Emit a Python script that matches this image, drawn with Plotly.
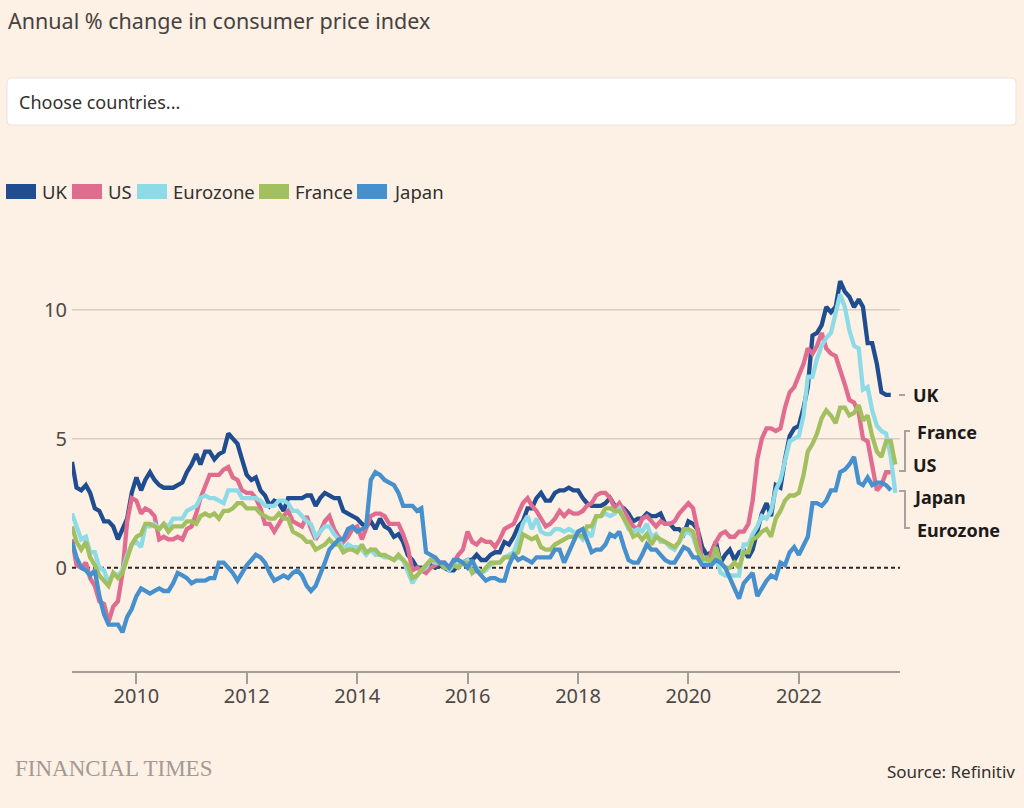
import pandas as pd
import plotly.graph_objects as go

# Monthly annual % change in CPI, Nov 2008 - Oct 2023
months = pd.date_range('2008-11-01', '2023-10-01', freq='MS')

uk = [4.1, 3.1,
      3.0, 3.2, 2.9, 2.3, 2.2, 1.8, 1.8, 1.6, 1.1, 1.5, 1.9, 2.9,
      3.5, 3.0, 3.4, 3.7, 3.4, 3.2, 3.1, 3.1, 3.1, 3.2, 3.3, 3.7,
      4.0, 4.4, 4.0, 4.5, 4.5, 4.2, 4.4, 4.5, 5.2, 5.0, 4.8, 4.2,
      3.6, 3.4, 3.5, 3.0, 2.8, 2.4, 2.6, 2.5, 2.2, 2.7, 2.7, 2.7,
      2.7, 2.8, 2.8, 2.4, 2.7, 2.9, 2.8, 2.7, 2.7, 2.2, 2.1, 2.0,
      1.9, 1.7, 1.6, 1.8, 1.5, 1.9, 1.6, 1.5, 1.2, 1.3, 1.0, 0.5,
      0.3, 0.0, 0.0, -0.1, 0.1, 0.0, 0.1, 0.0, -0.1, -0.1, 0.1, 0.2,
      0.3, 0.3, 0.5, 0.3, 0.3, 0.5, 0.6, 0.6, 1.0, 0.9, 1.2, 1.6,
      1.8, 2.3, 2.3, 2.7, 2.9, 2.6, 2.6, 2.9, 3.0, 3.0, 3.1, 3.0,
      3.0, 2.7, 2.5, 2.4, 2.4, 2.4, 2.5, 2.7, 2.4, 2.4, 2.3, 2.1,
      1.8, 1.9, 1.9, 2.1, 2.0, 2.0, 2.1, 1.7, 1.7, 1.5, 1.5, 1.3,
      1.8, 1.7, 1.5, 0.8, 0.5, 0.6, 1.0, 0.2, 0.5, 0.7, 0.3, 0.6,
      0.7, 0.4, 0.7, 1.5, 2.1, 2.5, 2.0, 3.2, 3.1, 4.2, 5.1, 5.4,
      5.5, 6.2, 7.0, 9.0, 9.1, 9.4, 10.1, 9.9, 10.1, 11.1, 10.7, 10.5,
      10.1, 10.4, 10.1, 8.7, 8.7, 7.9, 6.8, 6.7, 6.7, None]

us = [1.1, 0.1,
      0.0, 0.2, -0.4, -0.7, -1.3, -1.4, -2.1, -1.5, -1.3, -0.2, 1.8, 2.7,
      2.6, 2.1, 2.3, 2.2, 2.0, 1.1, 1.2, 1.1, 1.1, 1.2, 1.1, 1.5,
      1.6, 2.1, 2.7, 3.2, 3.6, 3.6, 3.6, 3.8, 3.9, 3.5, 3.4, 3.0,
      2.9, 2.9, 2.7, 2.3, 1.7, 1.7, 1.4, 1.7, 2.0, 2.2, 1.8, 1.7,
      1.6, 2.0, 1.5, 1.1, 1.4, 1.8, 2.0, 1.5, 1.2, 1.0, 1.2, 1.5,
      1.6, 1.1, 1.5, 2.0, 2.1, 2.1, 2.0, 1.7, 1.7, 1.7, 1.3, 0.8,
      -0.1, 0.0, -0.1, -0.2, 0.0, 0.1, 0.2, 0.2, 0.0, 0.2, 0.5, 0.7,
      1.4, 1.0, 0.9, 1.1, 1.0, 1.0, 0.8, 1.1, 1.5, 1.6, 1.7, 2.1,
      2.5, 2.7, 2.4, 2.2, 1.9, 1.6, 1.7, 1.9, 2.2, 2.0, 2.2, 2.1,
      2.1, 2.2, 2.4, 2.5, 2.8, 2.9, 2.9, 2.7, 2.3, 2.5, 2.2, 1.9,
      1.6, 1.5, 1.9, 2.0, 1.8, 1.6, 1.8, 1.7, 1.7, 1.8, 2.1, 2.3,
      2.5, 2.3, 1.5, 0.3, 0.1, 0.6, 1.0, 1.3, 1.4, 1.2, 1.2, 1.4,
      1.4, 1.7, 2.6, 4.2, 5.0, 5.4, 5.4, 5.3, 5.4, 6.2, 6.8, 7.0,
      7.5, 7.9, 8.5, 8.3, 8.6, 9.1, 8.5, 8.3, 8.2, 7.7, 7.1, 6.5,
      6.4, 6.0, 5.0, 4.9, 4.0, 3.0, 3.2, 3.7, 3.7, None]

eurozone = [2.1, 1.6,
            1.1, 1.2, 0.6, 0.6, 0.0, -0.1, -0.6, -0.2, -0.3, -0.1, 0.5, 0.9,
            1.0, 0.8, 1.6, 1.6, 1.7, 1.5, 1.7, 1.6, 1.9, 1.9, 1.9, 2.2,
            2.3, 2.4, 2.7, 2.8, 2.7, 2.7, 2.6, 2.5, 3.0, 3.0, 3.0, 2.7,
            2.7, 2.7, 2.7, 2.6, 2.4, 2.4, 2.4, 2.6, 2.6, 2.5, 2.2, 2.2,
            2.0, 1.8, 1.7, 1.2, 1.4, 1.6, 1.6, 1.3, 1.1, 0.7, 0.9, 0.8,
            0.8, 0.7, 0.5, 0.7, 0.5, 0.5, 0.4, 0.4, 0.3, 0.4, 0.3, -0.2,
            -0.6, -0.3, -0.1, 0.0, 0.3, 0.2, 0.2, 0.1, -0.1, 0.1, 0.1, 0.2,
            0.3, -0.2, 0.0, -0.2, -0.1, 0.1, 0.2, 0.2, 0.4, 0.5, 0.6, 1.1,
            1.7, 2.0, 1.5, 1.9, 1.4, 1.3, 1.3, 1.5, 1.5, 1.4, 1.5, 1.4,
            1.3, 1.1, 1.4, 1.2, 2.0, 2.0, 2.1, 2.0, 2.1, 2.3, 1.9, 1.5,
            1.4, 1.5, 1.4, 1.7, 1.2, 1.3, 1.0, 1.0, 0.8, 0.7, 1.0, 1.3,
            1.4, 1.2, 0.7, 0.3, 0.1, 0.3, 0.4, -0.2, -0.3, -0.3, -0.3, -0.3,
            0.9, 0.9, 1.3, 1.6, 2.0, 1.9, 2.2, 3.0, 3.4, 4.1, 4.9, 5.0,
            5.1, 5.9, 7.4, 7.4, 8.1, 8.6, 8.9, 9.1, 9.9, 10.6, 10.1, 9.2,
            8.6, 8.5, 6.9, 7.0, 6.1, 5.5, 5.3, 5.2, 4.3, 2.9]

france = [1.6, 1.0,
          0.7, 1.0, 0.4, 0.1, -0.3, -0.5, -0.7, -0.2, -0.4, -0.2, 0.4, 0.9,
          1.2, 1.3, 1.7, 1.7, 1.6, 1.5, 1.7, 1.4, 1.6, 1.6, 1.6, 1.8,
          1.8, 1.7, 2.0, 2.1, 2.0, 2.1, 1.9, 2.2, 2.2, 2.3, 2.5, 2.5,
          2.3, 2.3, 2.3, 2.1, 2.0, 1.9, 1.9, 2.1, 1.9, 1.9, 1.4, 1.3,
          1.2, 1.0, 1.0, 0.7, 0.8, 0.9, 1.1, 0.9, 0.9, 0.6, 0.7, 0.7,
          0.6, 0.9, 0.6, 0.7, 0.7, 0.5, 0.5, 0.4, 0.3, 0.5, 0.3, 0.1,
          -0.4, -0.3, -0.1, 0.1, 0.3, 0.3, 0.2, 0.0, 0.0, 0.1, 0.0, 0.2,
          0.2, -0.2, -0.1, -0.2, 0.0, 0.2, 0.2, 0.2, 0.4, 0.4, 0.5, 0.6,
          1.3, 1.2, 1.1, 1.2, 0.8, 0.7, 0.7, 0.9, 1.0, 1.1, 1.2, 1.2,
          1.3, 1.2, 1.6, 1.6, 2.0, 2.0, 2.3, 2.3, 2.2, 2.2, 1.9, 1.6,
          1.2, 1.3, 1.1, 1.3, 0.9, 1.2, 1.1, 1.0, 0.9, 0.8, 1.0, 1.5,
          1.5, 1.4, 0.7, 0.3, 0.4, 0.2, 0.8, 0.2, 0.0, 0.0, 0.2, 0.0,
          0.6, 0.6, 1.1, 1.2, 1.4, 1.5, 1.2, 1.9, 2.2, 2.6, 2.8, 2.8,
          2.9, 3.6, 4.5, 4.8, 5.2, 5.8, 6.1, 5.9, 5.6, 6.2, 6.2, 5.9,
          6.0, 6.3, 5.7, 5.9, 5.1, 4.5, 4.3, 4.9, 4.9, 4.0]

japan = [1.0, 0.4,
         0.0, -0.1, -0.3, -0.1, -1.1, -1.8, -2.2, -2.2, -2.2, -2.5, -1.9, -1.6,
         -1.1, -0.8, -0.9, -1.0, -0.9, -0.8, -0.9, -0.9, -0.6, -0.2, -0.3, -0.4,
         -0.6, -0.5, -0.5, -0.5, -0.4, -0.4, 0.2, 0.2, 0.0, -0.2, -0.5, -0.2,
         0.1, 0.3, 0.5, 0.4, 0.2, -0.2, -0.5, -0.4, -0.3, -0.4, -0.2, -0.1,
         -0.3, -0.7, -0.9, -0.7, -0.3, 0.2, 0.7, 0.9, 1.1, 1.1, 1.5, 1.6,
         1.4, 1.5, 1.6, 3.4, 3.7, 3.6, 3.4, 3.3, 3.2, 2.9, 2.4, 2.4,
         2.4, 2.2, 2.3, 0.6, 0.5, 0.4, 0.2, 0.2, 0.0, 0.3, 0.3, 0.2,
         0.0, 0.3, -0.1, -0.3, -0.5, -0.4, -0.4, -0.5, -0.5, 0.1, 0.5, 0.3,
         0.4, 0.3, 0.2, 0.4, 0.4, 0.4, 0.4, 0.7, 0.7, 0.2, 0.6, 1.0,
         1.4, 1.5, 1.1, 0.6, 0.7, 0.7, 0.9, 1.3, 1.2, 1.4, 0.8, 0.3,
         0.2, 0.2, 0.5, 0.9, 0.7, 0.7, 0.5, 0.3, 0.2, 0.2, 0.5, 0.8,
         0.7, 0.4, 0.4, 0.1, 0.1, 0.1, 0.3, 0.2, 0.0, -0.4, -0.9, -1.2,
         -0.6, -0.4, -0.2, -1.1, -0.8, -0.5, -0.3, -0.4, 0.2, 0.1, 0.6, 0.8,
         0.5, 0.9, 1.2, 2.5, 2.5, 2.4, 2.6, 3.0, 3.0, 3.7, 3.8, 4.0,
         4.3, 3.3, 3.2, 3.5, 3.2, 3.3, 3.3, 3.2, 3.0, None]

names = ['UK', 'US', 'Eurozone', 'France', 'Japan']
colours = ['#1f4d8f', '#e06c8f', '#8ddbe6', '#a2c060', '#4690cd']

BG = '#fdf0e5'
TEXT = '#33302e'

# page geometry (pixels) -> paper coordinates
W, H = 1024, 808
L, R, T, B = 72, 124, 258, 137


def px(x):
    return (x - L) / (W - L - R)


def py(y):
    return (H - B - y) / (H - T - B)


fig = go.Figure()
for name, vals, col in zip(names, [uk, us, eurozone, france, japan], colours):
    fig.add_trace(go.Scatter(
        x=months, y=vals, name=name, mode='lines',
        line=dict(color=col, width=4.3),
        showlegend=False,
        hovertemplate='%{x|%b %Y}: %{y:.1f}%<extra>' + name + '</extra>'
    ))

shapes = []
annotations = []

# gridlines + dotted zero line
for v in (5, 10):
    shapes.append(dict(type='line', xref='paper', yref='y', x0=0, x1=1, y0=v, y1=v,
                       line=dict(color='#d9cdc3', width=1.5), layer='below'))
shapes.append(dict(type='line', xref='paper', yref='y', x0=0, x1=1, y0=0, y1=0,
                   line=dict(color='#2b2826', width=2, dash='4px,3px'), layer='below'))

# "Choose countries..." box with rounded corners
bx0, by0, bx1, by1, r = 7, 78, 1016, 125, 4
box_path = (f'M {px(bx0 + r)},{py(by0)} L {px(bx1 - r)},{py(by0)} '
            f'Q {px(bx1)},{py(by0)} {px(bx1)},{py(by0 + r)} '
            f'L {px(bx1)},{py(by1 - r)} Q {px(bx1)},{py(by1)} {px(bx1 - r)},{py(by1)} '
            f'L {px(bx0 + r)},{py(by1)} Q {px(bx0)},{py(by1)} {px(bx0)},{py(by1 - r)} '
            f'L {px(bx0)},{py(by0 + r)} Q {px(bx0)},{py(by0)} {px(bx0 + r)},{py(by0)} Z')
shapes.append(dict(type='path', xref='paper', yref='paper', path=box_path,
                   fillcolor='white', line=dict(color='#ebe3db', width=1)))
annotations.append(dict(text='Choose countries...', x=px(18), y=py(102), xref='paper', yref='paper',
                        xanchor='left', yanchor='middle', showarrow=False, borderpad=0,
                        font=dict(size=18, color=TEXT)))

# legend swatches
legend_x = [6, 72, 137, 259, 357]
for lx, name, col in zip(legend_x, names, colours):
    shapes.append(dict(type='rect', xref='paper', yref='paper',
                       x0=px(lx), x1=px(lx + 30), y0=py(184), y1=py(199),
                       fillcolor=col, line=dict(width=0)))
    annotations.append(dict(text=name, x=px(lx + 35), y=py(191.5), xref='paper', yref='paper',
                            xanchor='left', yanchor='middle', showarrow=False, borderpad=0,
                            font=dict(size=18.5, color=TEXT)))

# end-of-line labels with leader brackets
bracket = dict(color='#aaa39d', width=2)
shapes.append(dict(type='line', xref='paper', yref='paper', x0=px(899), x1=px(905),
                   y0=py(395), y1=py(395), line=bracket))
shapes.append(dict(type='path', xref='paper', yref='paper', line=bracket,
                   path=f'M {px(910)},{py(431)} L {px(905)},{py(431)} L {px(905)},{py(471)} L {px(899)},{py(471)}'))
shapes.append(dict(type='path', xref='paper', yref='paper', line=bracket,
                   path=f'M {px(899)},{py(491)} L {px(905)},{py(491)} L {px(905)},{py(528)} L {px(910)},{py(528)}'))
end_labels = [('UK', 912, 395), ('France', 916, 432), ('US', 912, 465),
              ('Japan', 912, 497), ('Eurozone', 916, 530)]
for txt, lx, ly in end_labels:
    annotations.append(dict(text=f'<b>{txt}</b>', x=px(lx), y=py(ly), xref='paper', yref='paper',
                            xanchor='left', yanchor='middle', showarrow=False, borderpad=0,
                            font=dict(size=18, color='#1c1a19')))

# title and footer
annotations.append(dict(text='Annual % change in consumer price index', x=px(7), y=py(20),
                        xref='paper', yref='paper', xanchor='left', yanchor='middle',
                        showarrow=False, borderpad=0, font=dict(size=21.5, color='#47423f')))
annotations.append(dict(text='FINANCIAL TIMES', x=px(14), y=py(768), xref='paper', yref='paper',
                        xanchor='left', yanchor='middle', showarrow=False, borderpad=0,
                        font=dict(family='Liberation Serif, serif', size=23, color='#a29a93')))
annotations.append(dict(text='Source: Refinitiv', x=px(1016), y=py(771), xref='paper', yref='paper',
                        xanchor='right', yanchor='middle', showarrow=False, borderpad=0,
                        font=dict(size=17, color=TEXT)))

fig.update_layout(
    width=W, height=H, autosize=False,
    margin=dict(l=L, r=R, t=T, b=B, pad=0),
    paper_bgcolor=BG, plot_bgcolor=BG,
    font=dict(family='Noto Sans, sans-serif', color=TEXT),
    showlegend=False,
    shapes=shapes,
    annotations=annotations,
    hoverlabel=dict(font_size=14)
)

fig.update_xaxes(
    type='date', range=['2008-11-01', '2023-11-01'],
    tick0='2010-01-01', dtick='M24', tickformat='%Y',
    ticks='outside', ticklen=11, tickwidth=1.5, tickcolor='#a39d98',
    showline=True, linecolor='#a39d98', linewidth=2,
    showgrid=False, zeroline=False,
    ticklabelstandoff=-5,
    tickfont=dict(size=20, color='#4d4845')
)

fig.update_yaxes(
    range=[-4, 12], tickvals=[0, 5, 10],
    showgrid=False, zeroline=False, showline=False, ticks='',
    ticklabelstandoff=4,
    tickfont=dict(size=20, color='#4d4845')
)

# drop the default body margin so the chart sits at the page origin
fig.write_html('out.html', config={'displayModeBar': False},
               post_script="document.body.style.margin='0px';")
